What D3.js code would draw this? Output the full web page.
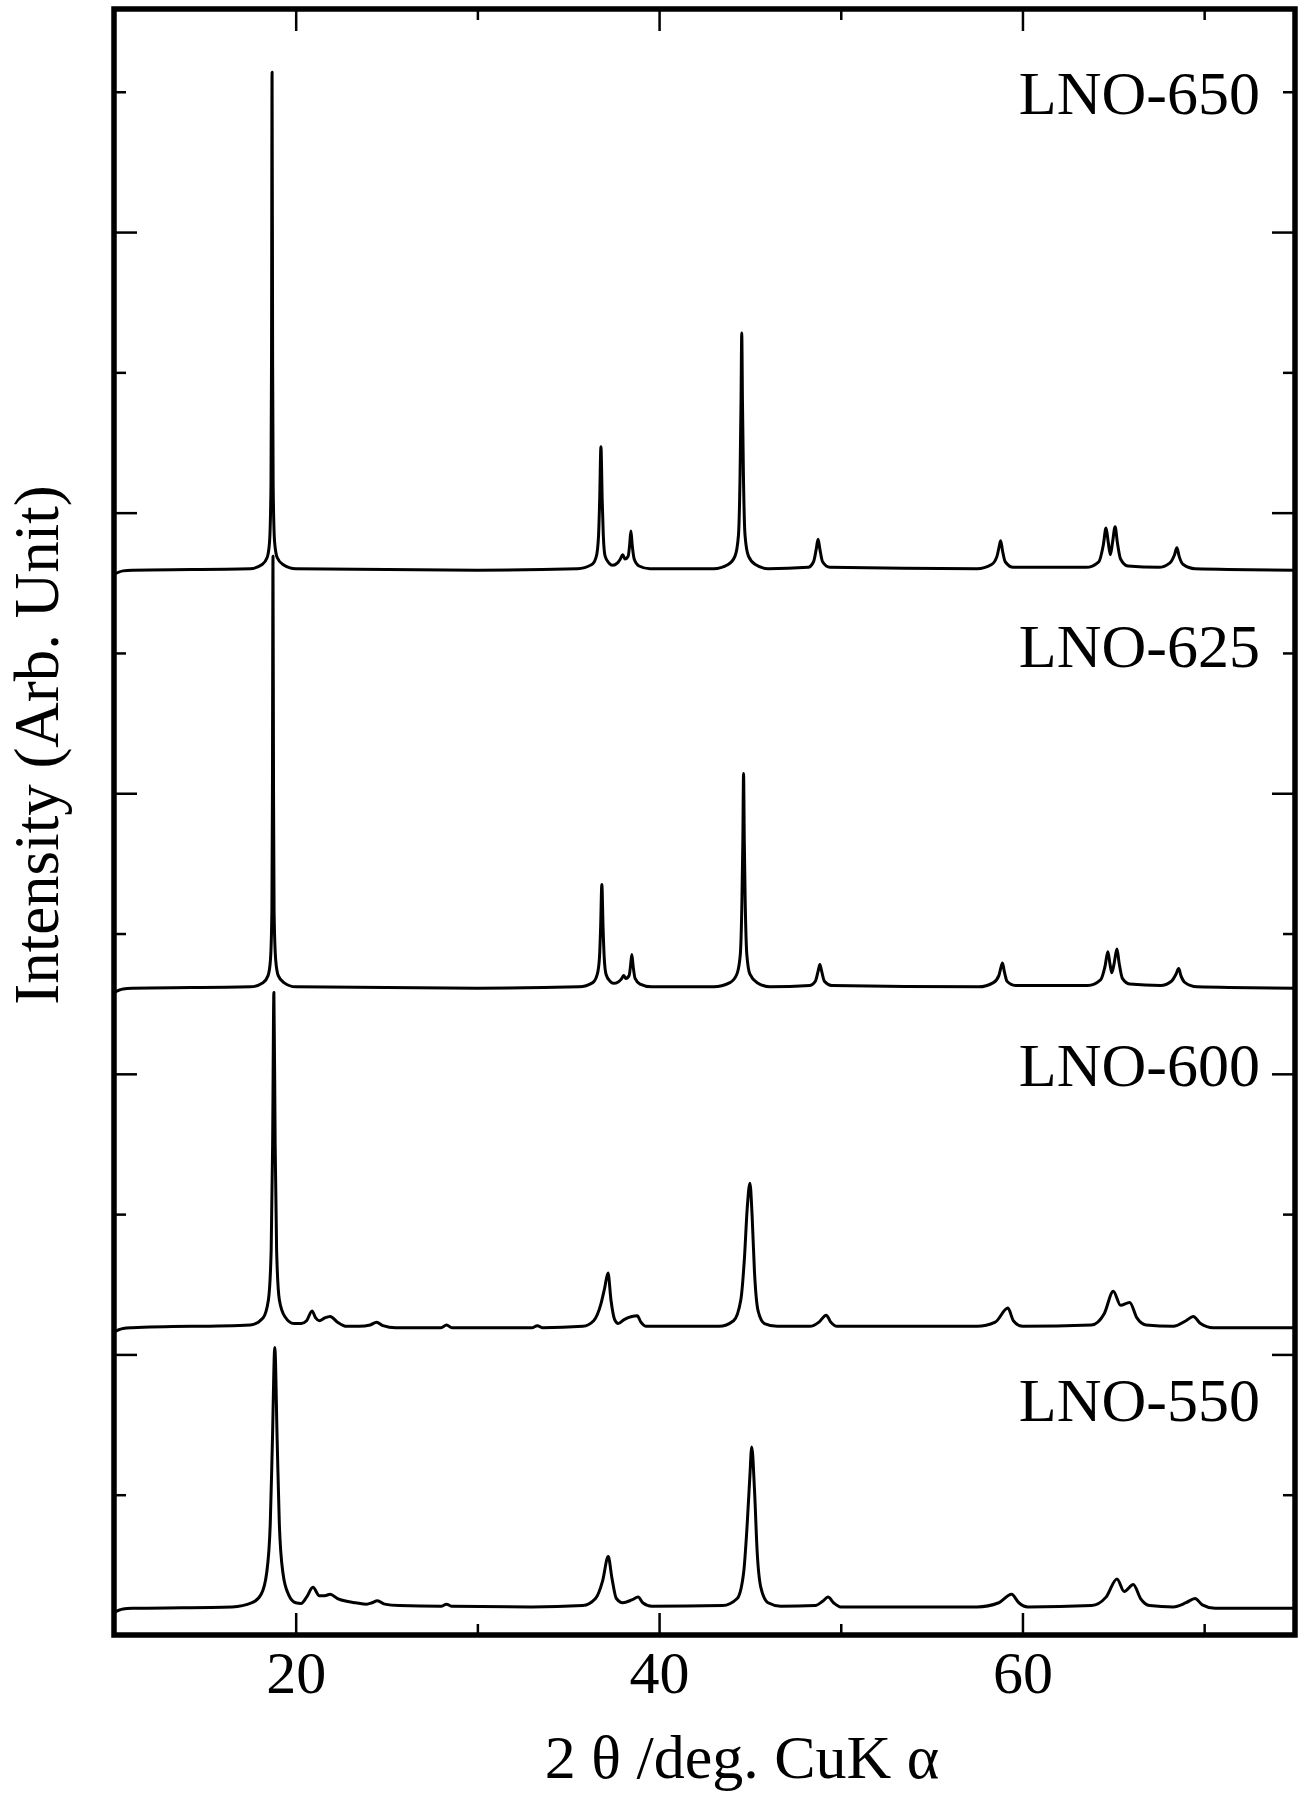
<!DOCTYPE html>
<html>
<head>
<meta charset="utf-8">
<script src="https://cdn.jsdelivr.net/npm/d3@7"></script>
<style>
  body { margin: 0; background: #fff; }
  text { font-family: "Liberation Serif", "DejaVu Serif", serif; fill: #000; }
</style>
</head>
<body>
<svg id="chart"></svg>
<script>
// sample names, top to bottom
const samples = ["LNO-650", "LNO-625", "LNO-600", "LNO-550"];
// vertical offset of each pattern (arb. units)
const offsets = [7.59, 4.61, 2.19, 0.19];

// [2theta, intensity above the pattern's own baseline]
const lno650 = [
  [10, -0.03], [10.5, -0.005], [11, 0], [17.5, 0.01], [18.15, 0.04], [18.43, 0.09], [18.56, 0.2],
  [18.64, 0.6], [18.67, 1.5], [18.7, 3.55], [18.73, 1.5], [18.76, 0.6], [18.84, 0.2], [18.98, 0.09],
  [19.3, 0.04], [20, 0.01], [30, 0], [35.5, 0.01], [36.3, 0.04], [36.55, 0.1], [36.67, 0.25],
  [36.73, 0.5], [36.8, 0.88], [36.87, 0.5], [36.93, 0.25], [37.03, 0.1], [37.25, 0.05], [37.45, 0.035],
  [37.7, 0.05], [37.87, 0.08], [38.0, 0.11], [38.12, 0.08], [38.3, 0.1], [38.38, 0.18], [38.45, 0.28],
  [38.52, 0.18], [38.63, 0.08], [38.9, 0.03], [39.5, 0.01], [43, 0.01], [43.8, 0.04], [44.18, 0.1],
  [44.37, 0.25], [44.46, 0.7], [44.51, 1.2], [44.55, 1.69], [44.59, 1.2], [44.64, 0.7], [44.73, 0.25],
  [44.92, 0.1], [45.3, 0.04], [46, 0.01], [48.2, 0.02], [48.5, 0.06], [48.65, 0.15], [48.75, 0.22],
  [48.85, 0.15], [49.0, 0.06], [49.4, 0.02], [57.5, 0.01], [58.3, 0.04], [58.6, 0.1], [58.72, 0.17],
  [58.8, 0.21], [58.9, 0.14], [59.05, 0.06], [59.5, 0.02], [63.5, 0.02], [64.2, 0.06], [64.45, 0.18],
  [64.6, 0.3], [64.72, 0.2], [64.84, 0.11], [64.96, 0.2], [65.1, 0.31], [65.22, 0.2], [65.4, 0.08],
  [65.8, 0.03], [67.5, 0.02], [68.1, 0.05], [68.37, 0.11], [68.5, 0.16], [68.62, 0.1], [68.85, 0.04],
  [69.5, 0.01], [75, 0]
];

const lno625 = [
  [10, -0.03], [10.5, -0.005], [11, 0], [17.5, 0.01], [18.2, 0.04], [18.48, 0.09], [18.61, 0.2],
  [18.69, 0.55], [18.72, 1.4], [18.75, 3.08], [18.78, 1.4], [18.81, 0.55], [18.9, 0.2], [19.04, 0.09],
  [19.35, 0.04], [20, 0.01], [30, 0], [35.6, 0.01], [36.35, 0.04], [36.6, 0.1], [36.72, 0.22],
  [36.78, 0.42], [36.85, 0.74], [36.92, 0.42], [36.98, 0.22], [37.08, 0.1], [37.3, 0.05], [37.5, 0.035],
  [37.75, 0.045], [37.92, 0.065], [38.05, 0.09], [38.17, 0.07], [38.35, 0.09], [38.43, 0.16], [38.5, 0.24],
  [38.57, 0.16], [38.68, 0.07], [38.95, 0.03], [39.6, 0.01], [43, 0.01], [43.9, 0.04], [44.28, 0.1],
  [44.47, 0.24], [44.56, 0.62], [44.61, 1.05], [44.65, 1.53], [44.69, 1.05], [44.74, 0.62], [44.83, 0.24],
  [45.0, 0.1], [45.4, 0.04], [46.1, 0.01], [48.3, 0.02], [48.6, 0.05], [48.75, 0.12], [48.85, 0.17],
  [48.95, 0.12], [49.1, 0.05], [49.5, 0.02], [57.6, 0.01], [58.4, 0.04], [58.7, 0.09], [58.82, 0.15],
  [58.9, 0.18], [59.0, 0.12], [59.15, 0.05], [59.6, 0.02], [63.6, 0.02], [64.3, 0.06], [64.55, 0.16],
  [64.7, 0.26], [64.82, 0.17], [64.92, 0.11], [65.05, 0.18], [65.2, 0.28], [65.32, 0.18], [65.5, 0.07],
  [65.9, 0.03], [67.6, 0.02], [68.2, 0.05], [68.45, 0.1], [68.6, 0.14], [68.72, 0.09], [68.95, 0.04],
  [69.6, 0.01], [75, 0]
];

const lno600 = [
  [10, -0.03], [10.5, -0.005], [11, 0], [17.5, 0.02], [18.2, 0.07], [18.5, 0.2], [18.65, 0.55],
  [18.73, 1.3], [18.8, 2.39], [18.87, 1.3], [18.95, 0.55], [19.1, 0.2], [19.4, 0.08], [19.9, 0.03],
  [20.3, 0.03], [20.6, 0.05], [20.9, 0.12], [21.1, 0.07], [21.3, 0.05], [21.6, 0.07], [21.9, 0.08],
  [22.3, 0.04], [22.8, 0.01], [23.5, 0.01], [24.1, 0.02], [24.45, 0.04], [24.8, 0.015], [25.5, 0],
  [28.0, 0], [28.3, 0.02], [28.6, 0], [33.0, 0], [33.3, 0.015], [33.6, 0], [35.8, 0.01], [36.4, 0.05],
  [36.8, 0.17], [37.0, 0.28], [37.19, 0.39], [37.35, 0.2], [37.55, 0.06], [37.75, 0.03], [38.1, 0.06],
  [38.5, 0.08], [38.8, 0.085], [39.0, 0.04], [39.3, 0.01], [43.3, 0.01], [44.1, 0.05], [44.5, 0.2],
  [44.7, 0.5], [44.85, 0.85], [45.0, 1.03], [45.12, 0.8], [45.25, 0.4], [45.45, 0.12], [45.8, 0.03],
  [46.5, 0.01], [48.3, 0.01], [48.8, 0.04], [49.2, 0.09], [49.45, 0.04], [49.8, 0.01], [57.5, 0.01],
  [58.5, 0.04], [59.2, 0.14], [59.5, 0.05], [60, 0.01], [63.8, 0.02], [64.5, 0.1], [65.0, 0.26],
  [65.4, 0.16], [65.9, 0.18], [66.3, 0.07], [66.8, 0.02], [68.3, 0.01], [69.0, 0.05], [69.4, 0.08],
  [69.8, 0.03], [70.5, 0], [75, 0]
];

const lno550 = [
  [10, -0.03], [10.5, -0.005], [11, 0], [16.5, 0.01], [17.6, 0.04], [18.1, 0.1], [18.4, 0.25],
  [18.6, 0.6], [18.72, 1.2], [18.85, 1.86], [18.98, 1.2], [19.1, 0.6], [19.3, 0.25], [19.6, 0.1],
  [20.0, 0.04], [20.3, 0.035], [20.6, 0.08], [20.95, 0.15], [21.3, 0.09], [21.6, 0.09], [21.9, 0.1],
  [22.3, 0.07], [22.8, 0.05], [23.3, 0.04], [23.9, 0.03], [24.2, 0.04], [24.5, 0.055], [24.9, 0.03],
  [25.7, 0.02], [28.0, 0.015], [28.3, 0.03], [28.6, 0.015], [33, 0.01], [35.8, 0.02], [36.5, 0.07],
  [36.9, 0.2], [37.2, 0.37], [37.4, 0.22], [37.65, 0.07], [38.0, 0.04], [38.5, 0.06], [38.85, 0.08],
  [39.1, 0.04], [39.6, 0.015], [43.5, 0.02], [44.3, 0.07], [44.65, 0.25], [44.85, 0.6], [45.0, 0.95],
  [45.1, 1.15], [45.25, 0.85], [45.4, 0.4], [45.6, 0.15], [46.0, 0.04], [46.7, 0.015], [48.6, 0.02],
  [49.0, 0.05], [49.3, 0.08], [49.6, 0.04], [50, 0.01], [57.5, 0.01], [58.7, 0.04], [59.4, 0.1],
  [59.8, 0.04], [60.3, 0.01], [63.8, 0.02], [64.6, 0.08], [65.2, 0.21], [65.6, 0.12], [66.1, 0.17],
  [66.5, 0.07], [67, 0.02], [68.3, 0.01], [69.0, 0.04], [69.5, 0.07], [69.9, 0.025], [70.6, 0], [75, 0]
];

const patterns = [lno650, lno625, lno600, lno550];

// axis ticks
const xMajorTicks = [20, 40, 60];
const xMinorTicks = [30, 50, 70];
const yMajorTicks = [2, 4, 6, 8, 10];
const yMinorTicks = [1, 3, 5, 7, 9, 11];

// layout
const margin = { top: 9, right: 12, bottom: 165, left: 114 };
const width = 1307 - margin.left - margin.right;
const height = 1800 - margin.top - margin.bottom;

const xScale = d3.scaleLinear().domain([10, 75]).range([0, width]);
const yScale = d3.scaleLinear().domain([0, 11.59]).range([height, 0]);

const svg = d3.select("#chart")
    .attr("width", 1307)
    .attr("height", 1800)
    .append("g")
    .attr("transform", `translate(${margin.left},${margin.top})`);

svg.append("clipPath").attr("id", "plot-clip")
    .append("rect").attr("width", width).attr("height", height);

// ticks, all pointing inward
function styleTicks(g) {
    g.select(".domain").remove();
    g.selectAll(".tick line").attr("stroke", "#000").attr("stroke-width", 2.5);
}

svg.append("g")
    .attr("transform", `translate(0,${height})`)
    .call(d3.axisBottom(xScale).tickValues(xMajorTicks).tickSize(-22).tickPadding(15).tickFormat(d3.format("d")))
    .call(styleTicks)
    .call(g => g.selectAll("text").attr("font-size", 60).attr("font-family", "Liberation Serif"));
svg.append("g")
    .attr("transform", `translate(0,${height})`)
    .call(d3.axisBottom(xScale).tickValues(xMinorTicks).tickSize(-11).tickFormat(""))
    .call(styleTicks);
svg.append("g")
    .call(d3.axisTop(xScale).tickValues(xMajorTicks).tickSize(-22).tickFormat(""))
    .call(styleTicks);
svg.append("g")
    .call(d3.axisTop(xScale).tickValues(xMinorTicks).tickSize(-11).tickFormat(""))
    .call(styleTicks);

svg.append("g")
    .call(d3.axisLeft(yScale).tickValues(yMajorTicks).tickSize(-23).tickFormat(""))
    .call(styleTicks);
svg.append("g")
    .call(d3.axisLeft(yScale).tickValues(yMinorTicks).tickSize(-12).tickFormat(""))
    .call(styleTicks);
svg.append("g")
    .attr("transform", `translate(${width},0)`)
    .call(d3.axisRight(yScale).tickValues(yMajorTicks).tickSize(-23).tickFormat(""))
    .call(styleTicks);
svg.append("g")
    .attr("transform", `translate(${width},0)`)
    .call(d3.axisRight(yScale).tickValues(yMinorTicks).tickSize(-12).tickFormat(""))
    .call(styleTicks);

// the patterns
const line = d3.line()
    .curve(d3.curveMonotoneX)
    .x(d => xScale(d[0]));

svg.append("g")
    .attr("clip-path", "url(#plot-clip)")
    .selectAll("path")
    .data(patterns)
    .join("path")
    .attr("fill", "none")
    .attr("stroke", "#000")
    .attr("stroke-width", 3)
    .attr("stroke-linejoin", "round")
    .attr("d", (p, i) => line.y(d => yScale(d[1] + offsets[i]))(p));

// sample labels (baseline height in axis units)
const labelY = [10.84, 6.90, 3.91, 1.525];
svg.selectAll(".sample-label")
    .data(samples)
    .join("text")
    .attr("class", "sample-label")
    .attr("x", xScale(73.07))
    .attr("y", (d, i) => yScale(labelY[i]))
    .attr("text-anchor", "end")
    .attr("font-size", 62)
    .text(d => d);

// frame
svg.append("rect")
    .attr("width", width)
    .attr("height", height)
    .attr("fill", "none")
    .attr("stroke", "#000")
    .attr("stroke-width", 5.5);

// axis titles
svg.append("text")
    .attr("x", 742 - margin.left)
    .attr("y", 1778 - margin.top)
    .attr("text-anchor", "middle")
    .attr("font-size", 62)
    .text("2 θ /deg. CuK α");

svg.append("text")
    .attr("transform", `translate(${58 - margin.left},${745 - margin.top}) rotate(-90)`)
    .attr("text-anchor", "middle")
    .attr("font-size", 63)
    .text("Intensity (Arb. Unit)");
</script>
</body>
</html>
